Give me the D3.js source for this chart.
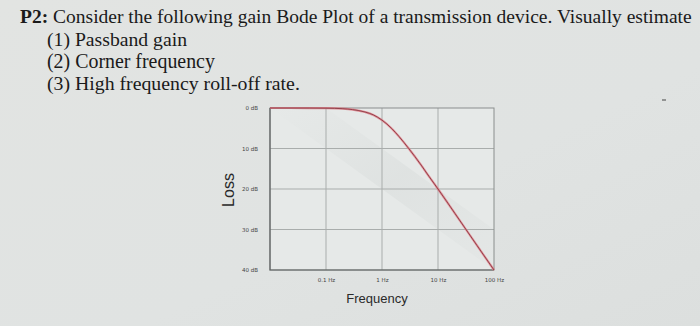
<!DOCTYPE html>
<html>
<head>
<meta charset="utf-8">
<script src="https://cdn.jsdelivr.net/npm/d3@7"></script>
<style>
  html, body { margin: 0; padding: 0; background: #dfe2e1; }
  svg { display: block; }
</style>
</head>
<body>
<script>
// Question text
const questionLines = [
  { bold: "P2:", text: " Consider the following gain Bode Plot of a transmission device. Visually estimate" },
  { bold: "", text: "(1) Passband gain" },
  { bold: "", text: "(2) Corner frequency" },
  { bold: "", text: "(3) High frequency roll-off rate." }
];

// Bode magnitude (loss) curve
const frequencies = [0.01, 0.05, 0.1, 0.2, 0.3, 0.5, 0.7, 1, 1.5, 2, 3, 5, 7, 10, 20, 50, 100];
const lossDb      = [0, 0.01, 0.04, 0.17, 0.4, 1.0, 1.7, 3.0, 5.1, 7.0, 10.0, 14.1, 17.0, 20.0, 26.0, 34.0, 40.0];

const freqTicks = [0.1, 1, 10, 100];
const freqTickLabels = ["0.1 Hz", "1 Hz", "10 Hz", "100 Hz"];
const lossTicks = [0, 10, 20, 30, 40];
const lossTickLabels = ["0 dB", "10 dB", "20 dB", "30 dB", "40 dB"];

const W = 700, H = 326;
const svg = d3.select("body").append("svg").attr("width", W).attr("height", H);

// paper background with soft lighting
const defs = svg.append("defs");
const bg = defs.append("linearGradient").attr("id", "paper").attr("x1", "0").attr("y1", "0").attr("x2", "1").attr("y2", "1");
bg.append("stop").attr("offset", "0").attr("stop-color", "#e2e4e2");
bg.append("stop").attr("offset", "0.6").attr("stop-color", "#e0e3e2");
bg.append("stop").attr("offset", "1").attr("stop-color", "#dcdfde");
svg.append("rect").attr("width", W).attr("height", H).attr("fill", "url(#paper)");

// question text, sized so each line spans its target width
const qx = [20, 47, 47, 47];
const qy = [23, 46, 68, 90];
const qw = [672, 140, 168, 253];
questionLines.forEach((l, i) => {
  const t = svg.append("text")
    .attr("x", qx[i]).attr("y", qy[i])
    .attr("font-family", "Liberation Serif, Times New Roman, serif")
    .attr("font-size", 20).attr("fill", "#1a1a1a");
  if (l.bold) t.append("tspan").attr("font-weight", "bold").text(l.bold);
  t.append("tspan").text(l.text);
  const w = t.node().getComputedTextLength();
  const fs = Math.min(21, 20 * qw[i] / w);
  t.attr("font-size", fs.toFixed(2));
});

// plot area
const x = d3.scaleLog().domain([0.01, 100]).range([270, 494]);
const y = d3.scaleLinear().domain([0, 40]).range([108, 270]);

const g = svg.append("g");
g.append("rect").attr("x", x(0.01)).attr("y", y(0))
  .attr("width", x(100) - x(0.01)).attr("height", y(40) - y(0))
  .attr("fill", "#e6e9e8");

// faint diagonal shading across the plot
const shade = defs.append("linearGradient").attr("id", "shade").attr("x1", "0").attr("y1", "0").attr("x2", "1").attr("y2", "1");
shade.append("stop").attr("offset", "0").attr("stop-color", "#d8dcdb").attr("stop-opacity", 0.0);
shade.append("stop").attr("offset", "0.5").attr("stop-color", "#d6dad9").attr("stop-opacity", 0.45);
shade.append("stop").attr("offset", "1").attr("stop-color", "#d8dcdb").attr("stop-opacity", 0.15);
g.append("path")
  .attr("d", `M${x(0.01)},${y(0)} L${x(100)},${y(40)} L${x(100)},${y(30)} L${x(0.1)},${y(0)} Z`)
  .attr("fill", "url(#shade)");

// grid
g.selectAll("line.vg").data(freqTicks.slice(0, 3)).join("line")
  .attr("x1", d => x(d)).attr("x2", d => x(d))
  .attr("y1", y(0)).attr("y2", y(40))
  .attr("stroke", "#a9adac").attr("stroke-width", 1);
g.selectAll("line.hg").data(lossTicks.slice(1, 4)).join("line")
  .attr("x1", x(0.01)).attr("x2", x(100))
  .attr("y1", d => y(d)).attr("y2", d => y(d))
  .attr("stroke", "#a9adac").attr("stroke-width", 1);

// frame
g.append("rect").attr("x", x(0.01)).attr("y", y(0))
  .attr("width", x(100) - x(0.01)).attr("height", y(40) - y(0))
  .attr("fill", "none").attr("stroke", "#8a8e8d").attr("stroke-width", 1);
g.append("path")
  .attr("d", `M${x(0.01)},${y(0)} V${y(40)} H${x(100)}`)
  .attr("fill", "none").attr("stroke", "#5f6363").attr("stroke-width", 1.2);

// axes (labels only)
const yAxis = d3.axisLeft(y).tickValues(lossTicks).tickSize(0).tickPadding(12)
  .tickFormat((d, i) => lossTickLabels[i]);
const ya = svg.append("g").attr("transform", `translate(${x(0.01)},0)`).call(yAxis);
ya.select(".domain").remove();
ya.selectAll("text").attr("font-family", "DejaVu Sans, sans-serif").attr("font-size", 5.5).attr("fill", "#444");

const xAxis = d3.axisBottom(x).tickValues(freqTicks).tickSize(0).tickPadding(8)
  .tickFormat((d, i) => freqTickLabels[i]);
const xa = svg.append("g").attr("transform", `translate(0,${y(40)})`).call(xAxis);
xa.select(".domain").remove();
xa.selectAll("text").attr("font-family", "DejaVu Sans, sans-serif").attr("font-size", 5.5).attr("fill", "#444");

// axis titles
svg.append("text").attr("transform", `translate(234,190) rotate(-90)`)
  .attr("text-anchor", "middle").attr("font-family", "Liberation Sans, Arial, sans-serif")
  .attr("font-size", 16).attr("fill", "#2a2a2a").text("Loss");
svg.append("text").attr("x", 377).attr("y", 303)
  .attr("text-anchor", "middle").attr("font-family", "Liberation Sans, Arial, sans-serif")
  .attr("font-size", 13).attr("fill", "#2a2a2a").text("Frequency");

// response curve
const pts = frequencies.map((f, i) => [f, lossDb[i]]);
const line = d3.line().x(d => x(d[0])).y(d => y(d[1])).curve(d3.curveMonotoneX);
g.append("path").datum(pts).attr("d", line)
  .attr("fill", "none").attr("stroke", "#e07a84").attr("stroke-width", 2.2).attr("stroke-opacity", 0.8);
g.append("path").datum(pts).attr("d", line)
  .attr("fill", "none").attr("stroke", "#8a3a44").attr("stroke-width", 0.9);

// small mark on the page
svg.append("line").attr("x1", 662).attr("x2", 666).attr("y1", 100).attr("y2", 100)
  .attr("stroke", "#444").attr("stroke-width", 1);
</script>
</body>
</html>
